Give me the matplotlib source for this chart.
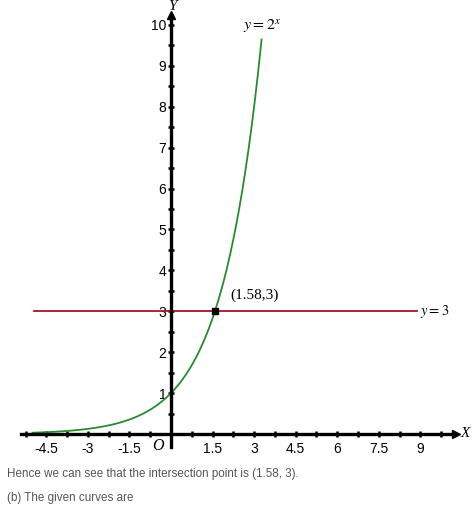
import numpy as np
import matplotlib
matplotlib.use("Agg")
import matplotlib.pyplot as plt

# chart data
base = 2
curve_x_range = (-5.0, 3.27)
line_y = 3
line_x_range = (-4.95, 8.88)
point = (1.58, 3)
x_major = [-4.5, -3, -1.5, 1.5, 3, 4.5, 6, 7.5, 9]
x_minor = list(np.arange(-5.25, 9.76, 0.75))
y_major = [1, 2, 3, 4, 5, 6, 7, 8, 9, 10]
y_minor = list(np.arange(0.5, 10.01, 0.5))

GREEN = "#2a8a30"
RED = "#a3142c"

plt.rcParams["mathtext.fontset"] = "stix"

fig = plt.figure(figsize=(4.74, 5.07), dpi=100)
ax = fig.add_axes([0, 0, 1, 1])
ax.set_xlim(-6.173, 10.939)
ax.set_ylim(-1.785, 10.611)

for side in ["top", "right"]:
    ax.spines[side].set_visible(False)
ax.spines["left"].set_position(("data", 0))
ax.spines["bottom"].set_position(("data", 0))
ax.spines["left"].set_bounds(-0.32, 10.15)
ax.spines["bottom"].set_bounds(-5.42, 10.2)
ax.spines["left"].set_linewidth(2.4)
ax.spines["bottom"].set_linewidth(2.4)

ax.plot([10.3], [0], marker=">", color="black", markersize=6, clip_on=False)
ax.plot([0], [10.25], marker="^", color="black", markersize=6, clip_on=False)

ax.set_xticks(x_major)
ax.set_xticks(x_minor, minor=True)
ax.set_yticks(y_major)
ax.set_yticks(y_minor, minor=True)
ax.set_xticklabels([f"{v:g}" for v in x_major])
ax.set_yticklabels([f"{v:g}" for v in y_major])
ax.tick_params(which="both", direction="inout", length=5, width=1.8, color="black")
ax.tick_params(axis="x", labelsize=10, pad=3)
ax.tick_params(axis="y", labelsize=10, pad=1)
for lab in ax.get_xticklabels() + ax.get_yticklabels():
    lab.set_fontfamily("Liberation Sans")

# curve y = 2^x
xs = np.linspace(curve_x_range[0], curve_x_range[1], 300)
ax.plot(xs, base ** xs, color=GREEN, linewidth=1.3)
ax.plot(line_x_range, [line_y, line_y], color=RED, linewidth=1.3)
ax.plot([point[0]], [point[1]], marker="s", color="black", markersize=5)

serif = "Liberation Serif"
ax.text(3.3, 9.75, r"$y = 2^x$", fontsize=11.5, ha="center", va="bottom")
ax.text(2.15, 3.38, "(1.58,3)", fontsize=11, fontfamily=serif, ha="left", va="center")
ax.text(9.0, 3.0, r"$y = 3$", fontsize=10.5, ha="left", va="center")
ax.text(10.45, 0.0, "X", fontsize=11, fontfamily=serif, style="italic", ha="left", va="center")
ax.text(0.05, 10.3, "Y", fontsize=11, fontfamily=serif, style="italic", ha="center", va="bottom")
ax.text(-0.47, -0.3, "O", fontsize=11.5, fontfamily=serif, style="italic", ha="center", va="center")

fig.text(7 / 474, 1 - 474 / 507, "Hence we can see that the intersection point is (1.58, 3).",
         fontsize=8.4, color="#555555", fontfamily="Liberation Sans", ha="left", va="center")
fig.text(7 / 474, 1 - 498 / 507, "(b) The given curves are",
         fontsize=8.4, color="#555555", fontfamily="Liberation Sans", ha="left", va="center")

fig.savefig("out.png", dpi=100)
